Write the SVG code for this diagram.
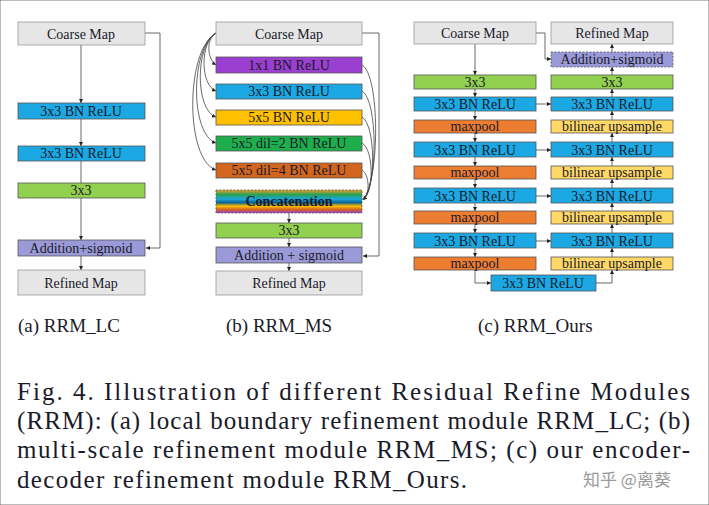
<svg xmlns="http://www.w3.org/2000/svg" width="709" height="505" viewBox="0 0 709 505">
<style>
text{font-family:"Liberation Serif","Times New Roman","DejaVu Serif",serif;fill:#1a1a2a}
.b text{font-size:14px;text-anchor:middle}
rect{stroke:#555;stroke-width:0.8}
.g{fill:#e6e6e6;stroke:#999}
.bl{fill:#1ba8e3}
.gr{fill:#92d050}
.pu{fill:#9b3fd0}
.or{fill:#ffc000}
.dg{fill:#1fae4c}
.br{fill:#d3661e}
.la{fill:#9a9ad8}
.mp{fill:#ec7d31}
.ye{fill:#ffd866}
.c path,.c line,.c polyline{fill:none;stroke:#444;stroke-width:0.8}
.cap{font-size:19px}
.fig{font-size:25px}
</style>
<defs>
<marker id="a" viewBox="0 0 6 6" refX="6" refY="3" markerWidth="5" markerHeight="5" orient="auto"><path d="M0,0L6,3L0,6z" fill="#222"/></marker>
<linearGradient id="cg" x1="0" y1="0" x2="0" y2="1">
<stop offset="0" stop-color="#e8a030"/><stop offset="0.2" stop-color="#2aa050"/><stop offset="0.4" stop-color="#1ba8e3"/><stop offset="0.55" stop-color="#0a6090"/><stop offset="0.7" stop-color="#ffc000"/><stop offset="0.85" stop-color="#d3661e"/><stop offset="1" stop-color="#9b3fd0"/>
</linearGradient>
</defs>
<rect width="709" height="505" fill="#fff" stroke="none"/>
<g class="c">
<line x1="81" y1="45" x2="81" y2="103" marker-end="url(#a)"/>
<line x1="81" y1="119" x2="81" y2="146" marker-end="url(#a)"/>
<line x1="81" y1="161" x2="81" y2="240" marker-end="url(#a)"/>
<line x1="81" y1="256" x2="81" y2="270" marker-end="url(#a)"/>
<polyline points="145,33 160,33 160,248 146,248" marker-end="url(#a)"/>
<path d="M216,33C205,40 208,60 216,65" marker-end="url(#a)"/>
<path d="M216,33C200,42 200,85 216,91" marker-end="url(#a)"/>
<path d="M216,33C195,45 195,110 216,117" marker-end="url(#a)"/>
<path d="M216,33C190,48 190,135 216,143" marker-end="url(#a)"/>
<path d="M216,33C185,50 185,160 216,170" marker-end="url(#a)"/>
<path d="M362,65C380,75 380,180 363,200" marker-end="url(#a)"/>
<path d="M362,91C378,100 378,185 363,200" marker-end="url(#a)"/>
<path d="M362,117C376,125 376,190 363,200"/>
<path d="M362,143C374,150 374,192 363,200"/>
<path d="M362,170C370,175 370,195 363,200"/>
<line x1="289" y1="213" x2="289" y2="223" marker-end="url(#a)"/>
<line x1="289" y1="238" x2="289" y2="247" marker-end="url(#a)"/>
<line x1="289" y1="263" x2="289" y2="271" marker-end="url(#a)"/>
<polyline points="362,33 379,33 379,256 363,256" marker-end="url(#a)"/>
<line x1="475" y1="44" x2="475" y2="75" marker-end="url(#a)"/>
<line x1="475" y1="89" x2="475" y2="97" marker-end="url(#a)"/>
<line x1="475" y1="111" x2="475" y2="120" marker-end="url(#a)"/>
<line x1="475" y1="133" x2="475" y2="142" marker-end="url(#a)"/>
<line x1="475" y1="157" x2="475" y2="166" marker-end="url(#a)"/>
<line x1="475" y1="179" x2="475" y2="188" marker-end="url(#a)"/>
<line x1="475" y1="203" x2="475" y2="211" marker-end="url(#a)"/>
<line x1="475" y1="224" x2="475" y2="233" marker-end="url(#a)"/>
<line x1="475" y1="248" x2="475" y2="257" marker-end="url(#a)"/>
<polyline points="475,270 475,283 491,283" marker-end="url(#a)"/>
<polyline points="596,283 612,283 612,270" marker-end="url(#a)"/>
<line x1="612" y1="257" x2="612" y2="248" marker-end="url(#a)"/>
<line x1="612" y1="233" x2="612" y2="224" marker-end="url(#a)"/>
<line x1="612" y1="211" x2="612" y2="203" marker-end="url(#a)"/>
<line x1="612" y1="188" x2="612" y2="179" marker-end="url(#a)"/>
<line x1="612" y1="166" x2="612" y2="157" marker-end="url(#a)"/>
<line x1="612" y1="142" x2="612" y2="133" marker-end="url(#a)"/>
<line x1="612" y1="120" x2="612" y2="111" marker-end="url(#a)"/>
<line x1="612" y1="97" x2="612" y2="89" marker-end="url(#a)"/>
<line x1="612" y1="75" x2="612" y2="67" marker-end="url(#a)"/>
<line x1="612" y1="52" x2="612" y2="44" marker-end="url(#a)"/>
<line x1="536" y1="104" x2="551" y2="104" marker-end="url(#a)"/>
<line x1="536" y1="150" x2="551" y2="150" marker-end="url(#a)"/>
<line x1="536" y1="196" x2="551" y2="196" marker-end="url(#a)"/>
<line x1="536" y1="241" x2="551" y2="241" marker-end="url(#a)"/>
<polyline points="536,33 545,33 545,59 551,59" marker-end="url(#a)"/>
</g>
<g class="b">
<g id="a-coarse"><rect class="g" x="18" y="22" width="127" height="23"/><text x="81" y="39" font-size="15">Coarse Map</text></g>
<g id="a-bn1"><rect class="bl" x="18" y="103" width="127" height="16"/><text x="81" y="116">3x3 BN ReLU</text></g>
<g id="a-bn2"><rect class="bl" x="18" y="146" width="127" height="15"/><text x="81" y="158">3x3 BN ReLU</text></g>
<g id="a-conv"><rect class="gr" x="18" y="183" width="127" height="15"/><text x="81" y="195">3x3</text></g>
<g id="a-add"><rect class="la" x="18" y="240" width="127" height="16"/><text x="81" y="253">Addition+sigmoid</text></g>
<g id="a-ref"><rect class="g" x="18" y="270" width="127" height="25"/><text x="81" y="288" font-size="15">Refined Map</text></g>

<g id="b-coarse"><rect class="g" x="216" y="22" width="146" height="23"/><text x="289" y="39" font-size="15">Coarse Map</text></g>
<g id="b-1x1"><rect class="pu" x="216" y="57" width="146" height="16"/><text x="289" y="70">1x1 BN ReLU</text></g>
<g id="b-3x3"><rect class="bl" x="216" y="84" width="146" height="15"/><text x="289" y="96">3x3 BN ReLU</text></g>
<g id="b-5x5"><rect class="or" x="216" y="110" width="146" height="15"/><text x="289" y="122">5x5 BN ReLU</text></g>
<g id="b-dil2"><rect class="dg" x="216" y="136" width="146" height="15"/><text x="289" y="148">5x5 dil=2 BN ReLU</text></g>
<g id="b-dil4"><rect class="br" x="216" y="163" width="146" height="15"/><text x="289" y="175">5x5 dil=4 BN ReLU</text></g>
<g id="b-cat"><rect x="216" y="190" width="146" height="23" fill="url(#cg)" stroke-dasharray="2 1.5"/><text x="289" y="206" font-weight="bold">Concatenation</text></g>
<g id="b-conv"><rect class="gr" x="216" y="223" width="146" height="15"/><text x="289" y="235">3x3</text></g>
<g id="b-add"><rect class="la" x="216" y="247" width="146" height="16"/><text x="289" y="260">Addition + sigmoid</text></g>
<g id="b-ref"><rect class="g" x="216" y="271" width="146" height="24"/><text x="289" y="288" font-size="15">Refined Map</text></g>

<g id="c-coarse"><rect class="g" x="414" y="22" width="122" height="22"/><text x="475" y="38" font-size="15">Coarse Map</text></g>
<g id="c-ref"><rect class="g" x="551" y="22" width="122" height="22"/><text x="612" y="38" font-size="15">Refined Map</text></g>
<g id="c-add"><rect class="la" x="551" y="52" width="122" height="15" stroke-dasharray="2 1.5"/><text x="612" y="64">Addition+sigmoid</text></g>
<g id="c-l0"><rect class="gr" x="414" y="75" width="122" height="14"/><text x="475" y="87">3x3</text></g>
<g id="c-r0"><rect class="gr" x="551" y="75" width="122" height="14"/><text x="612" y="87">3x3</text></g>
<g id="c-l1"><rect class="bl" x="414" y="97" width="122" height="14"/><text x="475" y="109">3x3 BN ReLU</text></g>
<g id="c-r1"><rect class="bl" x="551" y="97" width="122" height="14"/><text x="612" y="109">3x3 BN ReLU</text></g>
<g id="c-m1"><rect class="mp" x="414" y="120" width="122" height="13"/><text x="475" y="131" font-size="12">maxpool</text></g>
<g id="c-u1"><rect class="ye" x="551" y="120" width="122" height="13"/><text x="612" y="131" font-size="12">bilinear upsample</text></g>
<g id="c-l2"><rect class="bl" x="414" y="142" width="122" height="15"/><text x="475" y="155">3x3 BN ReLU</text></g>
<g id="c-r2"><rect class="bl" x="551" y="142" width="122" height="15"/><text x="612" y="155">3x3 BN ReLU</text></g>
<g id="c-m2"><rect class="mp" x="414" y="166" width="122" height="13"/><text x="475" y="177" font-size="12">maxpool</text></g>
<g id="c-u2"><rect class="ye" x="551" y="166" width="122" height="13"/><text x="612" y="177" font-size="12">bilinear upsample</text></g>
<g id="c-l3"><rect class="bl" x="414" y="188" width="122" height="15"/><text x="475" y="201">3x3 BN ReLU</text></g>
<g id="c-r3"><rect class="bl" x="551" y="188" width="122" height="15"/><text x="612" y="201">3x3 BN ReLU</text></g>
<g id="c-m3"><rect class="mp" x="414" y="211" width="122" height="13"/><text x="475" y="222" font-size="12">maxpool</text></g>
<g id="c-u3"><rect class="ye" x="551" y="211" width="122" height="13"/><text x="612" y="222" font-size="12">bilinear upsample</text></g>
<g id="c-l4"><rect class="bl" x="414" y="233" width="122" height="15"/><text x="475" y="246">3x3 BN ReLU</text></g>
<g id="c-r4"><rect class="bl" x="551" y="233" width="122" height="15"/><text x="612" y="246">3x3 BN ReLU</text></g>
<g id="c-m4"><rect class="mp" x="414" y="257" width="122" height="13"/><text x="475" y="268" font-size="12">maxpool</text></g>
<g id="c-u4"><rect class="ye" x="551" y="257" width="122" height="13"/><text x="612" y="268" font-size="12">bilinear upsample</text></g>
<g id="c-bot"><rect class="bl" x="491" y="275" width="105" height="16"/><text x="543" y="288">3x3 BN ReLU</text></g>
</g>
<text class="cap" x="18" y="332">(a)  RRM_LC</text>
<text class="cap" x="226" y="332">(b)  RRM_MS</text>
<text class="cap" x="478" y="332">(c)  RRM_Ours</text>
<text class="fig" x="17" y="400" textLength="673" lengthAdjust="spacing">Fig. 4. Illustration of different Residual Refine Modules</text>
<text class="fig" x="17" y="429" textLength="673" lengthAdjust="spacing">(RRM): (a) local boundary refinement module RRM_LC; (b)</text>
<text class="fig" x="17" y="458" textLength="673" lengthAdjust="spacing">multi-scale refinement module RRM_MS; (c) our encoder-</text>
<text class="fig" x="17" y="488" textLength="450" lengthAdjust="spacing">decoder refinement module RRM_Ours.</text>
<text x="583" y="486" font-size="17" style="font-family:'Noto Sans CJK SC',sans-serif;fill:#999">知乎 @离葵</text>
</svg>
